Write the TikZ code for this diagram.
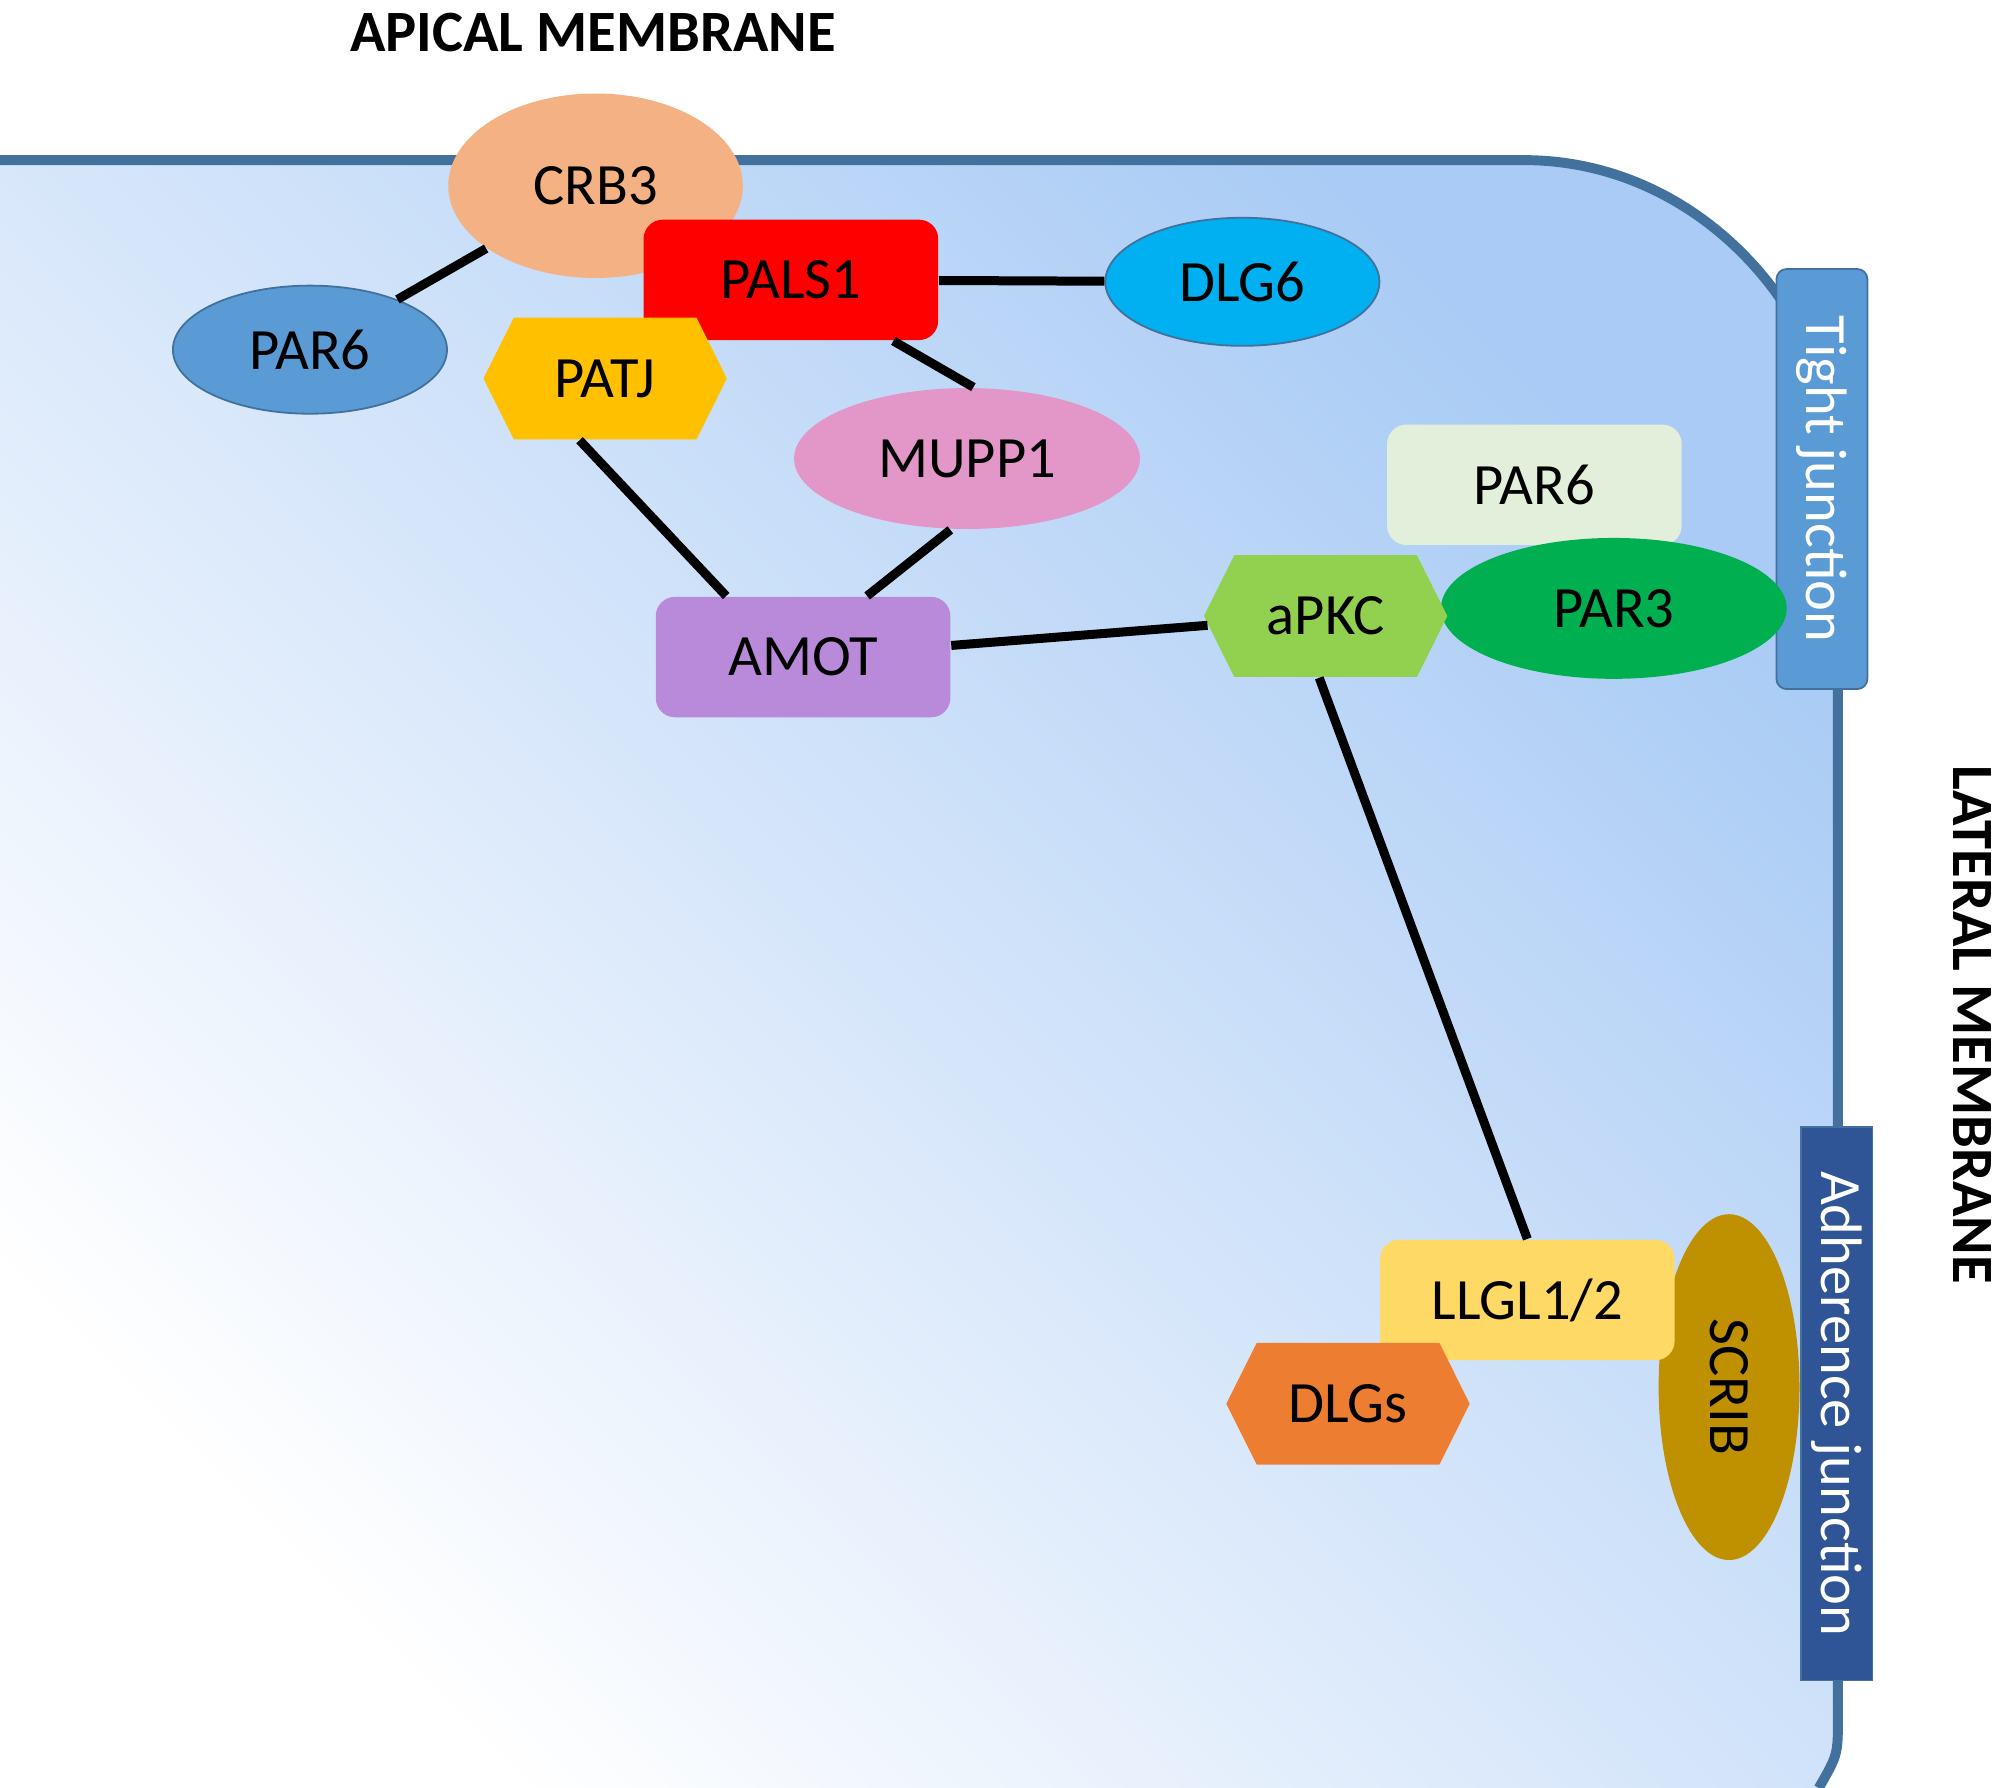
\documentclass[tikz,border=0pt]{standalone}
\usepackage{fontspec}
\setmainfont{Carlito}
\usetikzlibrary{shapes.geometric,shapes.symbols}
\definecolor{membrane}{HTML}{41719C}
\definecolor{cellblue}{HTML}{A9CBF5}
\definecolor{tightblue}{HTML}{5B9BD5}
\definecolor{adhblue}{HTML}{2F5597}
\begin{document}
\begin{tikzpicture}[
	font=\fontsize{13}{15}\selectfont,
	prot/.style={ellipse, inner sep=0pt},
	box/.style={rectangle, rounded corners=0.15cm, minimum width=2.3cm, minimum height=0.94cm, inner sep=0pt},
	hex/.style={signal, signal to=west and east, signal pointer angle=127, minimum width=1.9cm, minimum height=0.95cm, inner sep=0pt},
	link/.style={line width=2pt, black}
	]
	\useasboundingbox (0,0) rectangle (15.6,-13.96);
	
	% Cell body
	\shade[top color=cellblue, bottom color=white, shading angle=-45]
		(0,-1.25) -- (11.9,-1.25) .. controls (13.3,-1.25) and (14.35,-2.5) .. (14.35,-3.7)
		-- (14.35,-13.4) .. controls (14.35,-13.7) .. (14.2,-13.96) -- (0,-13.96) -- cycle;
	\draw[membrane, line width=2.2pt]
		(0,-1.25) -- (11.9,-1.25) .. controls (13.3,-1.25) and (14.35,-2.5) .. (14.35,-3.7)
		-- (14.35,-13.4) .. controls (14.35,-13.7) .. (14.2,-13.96);
	
	% Labels
	\node[font=\fontsize{13}{15}\selectfont\bfseries] (apical) at (4.63,-0.25) {APICAL MEMBRANE};
	\node[font=\fontsize{13}{15}\selectfont\bfseries, rotate=-90] (lateral) at (15.4,-8.0) {LATERAL MEMBRANE};
	
	% Junctions
	\node[box, rounded corners=0.08cm, minimum width=3.28cm, minimum height=0.71cm, fill=tightblue, draw=membrane, rotate=-90, text=white] (tight) at (14.225,-3.74) {Tight junction};
	\node[box, rounded corners=0pt, minimum width=4.32cm, minimum height=0.56cm, fill=adhblue, draw=membrane, rotate=-90, text=white] (adherence) at (14.34,-10.96) {Adherence junction};
	
	% Apical complex
	\node[prot, minimum width=2.3cm, minimum height=1.44cm, fill={rgb,255:red,244;green,177;blue,131}] (crb) at (4.65,-1.45) {CRB3};
	\node[prot, minimum width=2.14cm, minimum height=1.0cm, fill=tightblue, draw=membrane] (parsix) at (2.42,-2.73) {PAR6};
	\node[box, fill=red] (pals) at (6.175,-2.185) {PALS1};
	\node[hex, fill={rgb,255:red,255;green,192;blue,0}] (patj) at (4.725,-2.955) {PATJ};
	\node[prot, minimum width=2.14cm, minimum height=1.0cm, fill={rgb,255:red,0;green,176;blue,240}, draw=membrane] (dlgsix) at (9.7,-2.2) {DLG6};
	\node[prot, minimum width=2.7cm, minimum height=1.1cm, fill={rgb,255:red,227;green,150;blue,200}] (mupp) at (7.55,-3.58) {MUPP1};
	\node[box, fill={rgb,255:red,184;green,138;blue,217}] (amot) at (6.27,-5.13) {AMOT};
	
	% Par complex
	\node[box, fill={rgb,255:red,226;green,239;blue,218}] (partop) at (11.98,-3.785) {PAR6};
	\node[prot, minimum width=2.7cm, minimum height=1.1cm, fill={rgb,255:red,0;green,176;blue,80}] (parthree) at (12.6,-4.75) {PAR3};
	\node[hex, fill={rgb,255:red,146;green,208;blue,80}] (apkc) at (10.35,-4.81) {aPKC};
	
	% Scribble complex
	\node[prot, minimum width=1.1cm, minimum height=2.7cm, fill={rgb,255:red,191;green,144;blue,0}] (scribshape) at (13.5,-10.83) {};
	\node[rotate=-90] (scrib) at (13.5,-10.83) {SCRIB};
	\node[box, fill={rgb,255:red,255;green,217;blue,102}] (llgl) at (11.925,-10.15) {LLGL1/2};
	\node[hex, fill={rgb,255:red,237;green,125;blue,49}] (dlgs) at (10.525,-10.96) {DLGs};
	
	% Links
	\draw[link] (crb) -- (parsix);
	\draw[link] (pals) -- (dlgsix);
	\draw[link] ([xshift=0.8cm]pals.south) -- ([xshift=0.05cm]mupp.north);
	\draw[link] ([xshift=-0.2cm]patj.south) -- ([xshift=-0.6cm]amot.north);
	\draw[link] ([xshift=-0.13cm]mupp.south) -- ([xshift=0.5cm]amot.north);
	\draw[link] (amot) -- (apkc);
	\draw[link] ([xshift=-0.05cm]apkc.south) -- (llgl.north);
\end{tikzpicture}
\end{document}
